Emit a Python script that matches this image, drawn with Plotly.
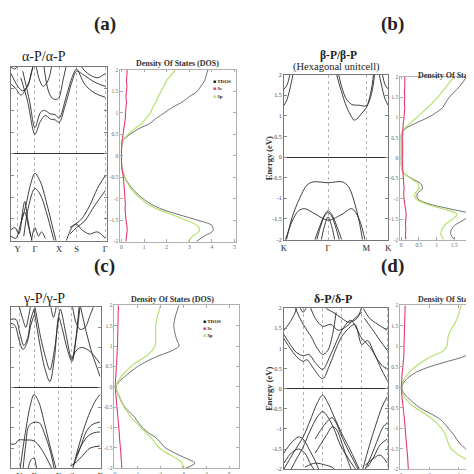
import plotly.graph_objects as go

W = H = 474
SERIF = "Liberation Serif"

# ---------------- DOS data (energy in eV, DOS in states/eV) ----------------
E_GRID = [2.0, 1.875, 1.75, 1.625, 1.5, 1.375, 1.25, 1.125, 1.0, 0.875, 0.75, 0.625,
          0.5, 0.375, 0.25, 0.125, 0.0, -0.125, -0.25, -0.375, -0.5, -0.625, -0.75,
          -0.875, -1.0, -1.125, -1.25, -1.375, -1.5, -1.625, -1.75, -1.875, -2.0]

TDOS_A = [3.82, 3.75, 3.68, 3.52, 3.35, 3.0, 2.68, 2.25, 1.9, 1.55, 1.25, 0.75,
          0.38, 0.1, 0.01, 0.0, 0.0, 0.0, 0.01, 0.06, 0.15, 0.28, 0.45,
          0.68, 0.95, 1.3, 1.8, 2.55, 3.35, 4.0, 4.05, 3.65, 3.3]
P3_A = [2.38, 2.2, 2.0, 1.88, 1.75, 1.62, 1.52, 1.38, 1.28, 1.1, 0.88, 0.57,
        0.3, 0.08, 0.01, 0.0, 0.0, 0.0, 0.01, 0.05, 0.13, 0.25, 0.4,
        0.6, 0.85, 1.15, 1.6, 2.25, 2.85, 3.35, 3.45, 3.15, 2.95]
S3_A = [0.25, 0.24, 0.22, 0.24, 0.22, 0.2, 0.22, 0.2, 0.18, 0.17, 0.14, 0.1,
        0.07, 0.03, 0.01, 0.0, 0.0, 0.0, 0.01, 0.04, 0.08, 0.1, 0.12,
        0.14, 0.15, 0.17, 0.16, 0.18, 0.2, 0.24, 0.25, 0.22, 0.2]

TDOS_B = [1.85, 1.75, 1.64, 1.5, 1.36, 1.26, 1.18, 1.0, 0.76, 0.45, 0.16, 0.01,
          0.0, 0.0, 0.0, 0.0, 0.0, 0.0, 0.01, 0.08, 0.3, 0.55, 0.6,
          0.45, 0.47, 0.78, 1.4, 1.93, 1.8, 1.55, 1.42, 1.4, 1.5]
P3_B = [1.5, 1.38, 1.27, 1.15, 1.04, 0.9, 0.76, 0.6, 0.44, 0.28, 0.11, 0.01,
        0.0, 0.0, 0.0, 0.0, 0.0, 0.0, 0.01, 0.07, 0.27, 0.47, 0.5,
        0.38, 0.42, 0.7, 1.2, 1.58, 1.45, 1.25, 1.15, 1.12, 1.2]
S3_B = [0.1, 0.1, 0.1, 0.09, 0.1, 0.09, 0.1, 0.09, 0.08, 0.06, 0.05, 0.04,
        0.04, 0.04, 0.04, 0.04, 0.04, 0.04, 0.04, 0.05, 0.06, 0.07, 0.08,
        0.07, 0.08, 0.1, 0.12, 0.14, 0.13, 0.12, 0.13, 0.12, 0.13]

TDOS_C = [2.8, 2.72, 2.65, 2.6, 2.57, 2.6, 2.65, 2.72, 2.8, 2.45, 1.86, 1.4,
          1.0, 0.7, 0.43, 0.18, 0.04, 0.1, 0.2, 0.3, 0.43, 0.65, 0.86,
          1.02, 1.2, 1.45, 1.78, 2.0, 2.2, 2.6, 3.07, 3.5, 3.1]
P3_C = [2.0, 1.93, 1.86, 1.82, 1.78, 1.78, 1.78, 1.78, 1.75, 1.6, 1.36, 1.0,
        0.7, 0.48, 0.28, 0.12, 0.04, 0.1, 0.18, 0.28, 0.4, 0.55, 0.7,
        0.92, 1.14, 1.35, 1.57, 1.75, 1.93, 2.25, 2.65, 2.95, 2.93]
S3_C = [0.15, 0.15, 0.14, 0.14, 0.13, 0.13, 0.12, 0.12, 0.11, 0.1, 0.09, 0.08,
        0.07, 0.05, 0.04, 0.02, 0.01, 0.03, 0.05, 0.07, 0.09, 0.11, 0.13,
        0.15, 0.17, 0.19, 0.2, 0.22, 0.24, 0.26, 0.27, 0.29, 0.3]

TDOS_D = [6.5, 6.3, 6.1, 5.9, 5.7, 5.5, 5.2, 4.85, 4.8, 5.0, 4.4, 3.2,
          2.0, 1.1, 0.55, 0.2, 0.05, 0.15, 0.45, 0.85, 1.3, 1.95, 2.6,
          3.0, 3.3, 3.6, 3.85, 4.1, 4.5, 4.8, 5.1, 5.5, 5.8]
P3_D = [4.2, 4.1, 4.0, 3.85, 3.65, 3.45, 3.3, 3.25, 3.2, 2.9, 2.1, 1.5,
        1.0, 0.6, 0.3, 0.1, 0.02, 0.08, 0.25, 0.55, 1.0, 1.55, 2.1,
        2.5, 2.8, 3.05, 3.2, 3.3, 3.5, 3.9, 4.5, 5.0, 5.4]
S3_D = [0.28, 0.27, 0.26, 0.25, 0.24, 0.23, 0.22, 0.21, 0.2, 0.2, 0.18, 0.15,
        0.12, 0.08, 0.05, 0.03, 0.01, 0.03, 0.06, 0.1, 0.14, 0.18, 0.22,
        0.25, 0.28, 0.31, 0.34, 0.37, 0.4, 0.43, 0.46, 0.48, 0.5]

# ---------------- band structure data: (k-path distance, energy eV) ----------------
KPTS_A = [0.067, 0.243, 0.49, 0.667, 0.96]
KLAB_A = ["Y", "Γ", "X", "S", "Γ"]
BANDS_A = [
    [(0.10, 1.75), (0.17, 1.2), (0.243, 0.45), (0.30, 0.75), (0.35, 0.88), (0.40, 0.8), (0.45, 0.78),
     (0.49, 0.72), (0.55, 1.1), (0.62, 1.65), (0.667, 1.9), (0.75, 1.8), (0.85, 1.65), (0.96, 1.55)],
    [(0.12, 1.9), (0.19, 1.2), (0.243, 0.6), (0.30, 0.95), (0.34, 1.0), (0.40, 0.92), (0.45, 0.9),
     (0.49, 0.82), (0.56, 1.3), (0.62, 1.75), (0.667, 1.95), (0.75, 1.6), (0.85, 1.4), (0.96, 1.3)],
    [(0.0, 1.85), (0.07, 1.55), (0.12, 1.45), (0.17, 1.55), (0.21, 1.9), (0.24, 2.1)],
    [(0.0, 1.6), (0.05, 1.5), (0.10, 1.35), (0.14, 1.45), (0.19, 1.7), (0.23, 2.1)],
    [(0.33, 2.1), (0.38, 1.45), (0.42, 1.28), (0.46, 1.25), (0.49, 1.3), (0.53, 1.7), (0.57, 2.1)],
    [(0.70, 2.05), (0.78, 1.85), (0.88, 1.75), (0.96, 1.85)],
    [(0.0, 2.0), (0.04, 1.95), (0.08, 2.1)],
    [(0.25, 2.1), (0.29, 1.7), (0.33, 1.55), (0.38, 1.7), (0.42, 2.1)],
    [(0.10, -1.6), (0.15, -1.2), (0.20, -0.7), (0.243, -0.45), (0.30, -0.65), (0.37, -1.2),
     (0.43, -1.75), (0.47, -2.1)],
    [(0.13, -1.9), (0.18, -1.2), (0.243, -0.8), (0.30, -0.95), (0.36, -1.35), (0.42, -1.85), (0.45, -2.1)],
    [(0.60, -1.7), (0.667, -1.6), (0.72, -1.5), (0.80, -1.2), (0.88, -0.8), (0.96, -0.5)],
    [(0.60, -1.85), (0.667, -1.7), (0.75, -1.55), (0.85, -1.2), (0.96, -0.85)],
    [(0.55, -2.1), (0.62, -1.7), (0.667, -1.62), (0.72, -1.75), (0.80, -1.85), (0.88, -1.8), (0.96, -1.95)],
    [(0.0, -1.75), (0.04, -1.7), (0.08, -1.85), (0.12, -1.3), (0.14, -1.1), (0.17, -1.5), (0.20, -1.9)],
    [(0.0, -1.9), (0.05, -1.95), (0.10, -1.6), (0.14, -1.35), (0.18, -1.7), (0.22, -2.05)],
    [(0.20, -2.1), (0.243, -1.7), (0.28, -1.9), (0.31, -1.8), (0.35, -1.95)],
]

KPTS_B = [0.0, 0.4226, 0.789, 1.0]
KLAB_B = ["K", "Γ", "M", "K"]
BANDS_B = [
    [(0.0, 1.25), (0.03, 1.4), (0.07, 1.8), (0.09, 2.05)],
    [(0.0, 1.65), (0.03, 1.75), (0.06, 2.05)],
    [(0.50, 2.05), (0.55, 1.6), (0.60, 1.22), (0.65, 0.97), (0.67, 0.9), (0.70, 0.93), (0.74, 1.05),
     (0.789, 1.2), (0.84, 1.55), (0.87, 2.05)],
    [(0.52, 2.05), (0.56, 1.65), (0.60, 1.4), (0.65, 1.28), (0.72, 1.26), (0.789, 1.25), (0.83, 1.55),
     (0.86, 2.05)],
    [(1.0, 1.25), (0.97, 1.4), (0.93, 1.8), (0.91, 2.05)],
    [(1.0, 1.65), (0.97, 1.75), (0.94, 2.05)],
    [(0.02, -2.05), (0.08, -1.45), (0.15, -1.0), (0.22, -0.68), (0.28, -0.6), (0.4226, -0.62),
     (0.56, -0.6), (0.62, -0.72), (0.67, -1.05), (0.72, -1.55), (0.755, -2.05)],
    [(0.01, -2.05), (0.08, -1.55), (0.14, -1.3), (0.2, -1.25), (0.3, -1.38), (0.4226, -1.53),
     (0.56, -1.38), (0.65, -1.25), (0.72, -1.5), (0.78, -2.05)],
    [(0.29, -2.05), (0.34, -1.7), (0.39, -1.4), (0.4226, -1.3), (0.46, -1.4), (0.51, -1.7), (0.56, -2.05)],
    [(0.31, -2.05), (0.355, -1.65), (0.39, -1.42), (0.4226, -1.35), (0.455, -1.42), (0.49, -1.65),
     (0.535, -2.05)],
    [(0.355, -2.05), (0.385, -1.7), (0.4226, -1.45), (0.46, -1.7), (0.49, -2.05)],
]

KPTS_C = [0.083, 0.233, 0.483, 0.617, 0.90]
KLAB_C = ["Y", "Γ", "X", "S", "Γ"]
BANDS_C = [
    [(0.233, 1.95), (0.29, 1.1), (0.34, 0.5), (0.393, 0.15), (0.44, 0.75), (0.483, 1.75), (0.52, 1.45),
     (0.57, 0.95), (0.617, 0.65), (0.66, 1.25), (0.70, 2.05)],
    [(0.24, 2.05), (0.30, 1.25), (0.35, 0.75), (0.393, 0.44), (0.44, 0.95), (0.47, 1.5), (0.50, 1.95),
     (0.55, 1.4), (0.60, 0.8), (0.617, 0.7), (0.65, 1.1), (0.69, 2.05)],
    [(0.70, 2.05), (0.76, 1.4), (0.82, 0.85), (0.87, 0.5), (0.90, 0.28)],
    [(0.62, 0.75), (0.67, 0.95), (0.72, 1.0), (0.80, 0.9), (0.90, 0.6)],
    [(0.0, 1.7), (0.05, 1.7), (0.09, 1.35), (0.13, 1.05), (0.17, 1.25), (0.20, 1.7), (0.233, 1.95)],
    [(0.0, 1.6), (0.04, 1.55), (0.08, 1.2), (0.12, 0.95), (0.16, 1.1), (0.20, 1.55), (0.233, 1.8)],
    [(0.08, 2.05), (0.12, 1.7), (0.15, 1.5), (0.18, 1.8), (0.20, 2.05)],
    [(0.40, 2.05), (0.43, 1.75), (0.46, 2.05)],
    [(0.62, 2.05), (0.66, 1.6), (0.70, 1.45), (0.75, 1.5), (0.80, 1.8), (0.84, 2.05)],
    [(0.09, -2.05), (0.14, -1.2), (0.19, -0.5), (0.233, -0.17), (0.28, -0.35), (0.34, -0.9),
     (0.40, -1.5), (0.46, -2.05)],
    [(0.12, -2.05), (0.15, -1.4), (0.18, -0.95), (0.233, -0.86), (0.29, -0.88), (0.34, -1.15),
     (0.40, -1.6), (0.44, -2.05)],
    [(0.0, -1.4), (0.04, -1.4), (0.08, -1.3), (0.14, -1.3), (0.233, -1.32), (0.30, -1.5), (0.36, -1.75),
     (0.42, -2.05)],
    [(0.17, -2.05), (0.20, -1.8), (0.233, -1.75), (0.26, -2.05)],
    [(0.62, -2.05), (0.68, -1.5), (0.74, -1.0), (0.80, -0.6), (0.86, -0.3), (0.90, -0.17)],
    [(0.63, -1.95), (0.70, -1.5), (0.76, -1.1), (0.82, -0.92), (0.90, -0.85)],
    [(0.66, -1.7), (0.72, -1.4), (0.78, -1.2), (0.84, -1.12), (0.90, -1.1)],
    [(0.60, -1.95), (0.66, -1.85), (0.72, -1.7), (0.80, -1.5), (0.90, -1.45)],
]

KPTS_D = [0.0, 0.184, 0.371, 0.555, 0.746, 0.99]
KLAB_D = ["S", "Y", "Γ", "X", "S", "Γ"]
BANDS_D = [
    [(0.0, 1.25), (0.06, 1.0), (0.12, 0.8), (0.184, 0.68), (0.22, 0.72), (0.29, 0.48), (0.371, 0.25),
     (0.44, 0.6), (0.50, 1.0), (0.555, 1.3), (0.62, 1.5), (0.68, 1.6), (0.746, 1.1), (0.80, 1.2),
     (0.87, 0.85), (0.93, 0.5), (0.99, 0.2)],
    [(0.0, 1.35), (0.06, 1.1), (0.12, 0.9), (0.184, 0.82), (0.24, 0.85), (0.30, 0.65), (0.371, 0.48),
     (0.44, 0.8), (0.50, 1.15), (0.555, 1.45), (0.64, 1.7), (0.746, 1.25), (0.82, 1.05), (0.89, 0.75),
     (0.95, 0.55), (0.99, 0.5)],
    [(0.0, 1.45), (0.05, 1.62), (0.10, 1.85), (0.13, 2.05)],
    [(0.10, 2.05), (0.184, 1.6), (0.26, 1.3), (0.32, 1.0), (0.371, 0.85), (0.42, 0.95), (0.47, 1.4),
     (0.50, 1.9)],
    [(0.25, 2.05), (0.30, 1.75), (0.371, 1.55), (0.45, 1.6), (0.52, 1.45), (0.60, 1.55), (0.68, 1.75),
     (0.746, 1.9)],
    [(0.40, 2.0), (0.47, 1.9), (0.555, 1.75), (0.62, 1.65), (0.70, 1.75), (0.746, 2.05)],
    [(0.76, 2.0), (0.82, 1.75), (0.90, 1.6), (0.99, 1.45)],
    [(0.77, 1.75), (0.84, 1.5), (0.92, 1.2), (0.99, 0.95)],
    [(0.15, 2.05), (0.184, 1.9), (0.22, 2.05)],
    [(0.0, -2.0), (0.09, -1.6), (0.184, -1.2), (0.25, -0.8), (0.32, -0.35), (0.371, -0.16),
     (0.42, -0.35), (0.49, -0.75), (0.555, -1.12), (0.64, -1.55), (0.73, -2.05)],
    [(0.06, -2.05), (0.12, -1.75), (0.184, -1.45), (0.25, -1.05), (0.32, -0.7), (0.371, -0.57),
     (0.42, -0.7), (0.48, -1.0), (0.54, -1.4), (0.62, -1.75), (0.70, -2.05)],
    [(0.30, -1.25), (0.36, -1.0), (0.42, -0.8), (0.46, -0.72), (0.50, -0.85), (0.555, -1.2),
     (0.62, -1.55), (0.68, -1.85), (0.72, -2.05)],
    [(0.30, -1.6), (0.36, -1.35), (0.42, -1.1), (0.46, -0.95), (0.50, -1.0), (0.555, -1.35),
     (0.60, -1.7), (0.65, -2.05)],
    [(0.0, -1.6), (0.07, -1.35), (0.14, -1.2), (0.184, -1.25), (0.24, -1.5), (0.30, -1.8), (0.34, -2.05)],
    [(0.0, -1.85), (0.07, -1.6), (0.14, -1.5), (0.20, -1.6), (0.26, -1.9), (0.30, -2.05)],
    [(0.20, -1.95), (0.30, -1.85), (0.40, -1.9), (0.46, -1.95), (0.50, -2.05)],
    [(0.75, -2.05), (0.82, -1.4), (0.88, -0.9), (0.94, -0.45), (0.99, -0.2)],
    [(0.77, -2.05), (0.84, -1.65), (0.90, -1.25), (0.95, -0.95), (0.99, -0.85)],
    [(0.80, -1.95), (0.86, -1.7), (0.92, -1.4), (0.99, -1.25)],
    [(0.78, -1.9), (0.85, -1.75), (0.92, -1.65), (0.99, -1.85)],
]

E_TICKS = [2, 1.5, 1, 0.5, 0, -0.5, -1, -1.5, -2]
E_TICKTXT = ["2", "1.5", "1", "0.5", "0", "-0.5", "-1", "-1.5", "-2"]
DOS_TICKS_A = [0, 1, 2, 3, 4, 5]
DOS_TICKS_B = [0, 0.5, 1, 1.5, 2]
DOS_TICKS_D = [0, 2, 4]

C_TDOS = "#4a4a4a"
C_3S = "#e23a6e"
C_3P = "#b6e26e"


def px_x(a, b):
    return [a / W, min(b / W, 1.0)]


def px_y(top, bottom):
    return [1 - bottom / H, 1 - top / H]


fig = go.Figure()

panels = [
    dict(b=1, d=2, bands=BANDS_A, kp=KPTS_A, kl=KLAB_A, kr=[0, 0.973], bx=(0, 97), by=(57, 234), lab=False,
         dx=(111, 228), dy=(60, 235), dr=[-0.05, 5.05], dt=DOS_TICKS_A, data=(TDOS_A, P3_A, S3_A)),
    dict(b=3, d=4, bands=BANDS_B, kp=KPTS_B, kl=KLAB_B, kr=[0, 1.0], bx=(277, 383), by=(65, 233), lab=True,
         dx=(395, 474), dy=(67, 233), dr=[-0.03, 2.17], dt=DOS_TICKS_B, data=(TDOS_B, P3_B, S3_B)),
    dict(b=5, d=6, bands=BANDS_C, kp=KPTS_C, kl=KLAB_C, kr=[0, 0.907], bx=(0, 91), by=(302, 466), lab=False,
         dx=(105, 231), dy=(300, 466), dr=[-0.02, 5.4], dt=DOS_TICKS_A, data=(TDOS_C, P3_C, S3_C)),
    dict(b=7, d=8, bands=BANDS_D, kp=KPTS_D, kl=KLAB_D, kr=[0, 1.0], bx=(277, 383), by=(303, 467), lab=True,
         dx=(395, 474), dy=(300, 467), dr=[-0.07, 5.38], dt=DOS_TICKS_D, data=(TDOS_D, P3_D, S3_D)),
]


def ref(i, kind):
    return kind + ("" if i == 1 else str(i))


layout_axes = {}
for p in panels:
    b, d = p["b"], p["d"]
    for band in p["bands"]:
        fig.add_trace(go.Scatter(x=[q[0] for q in band], y=[q[1] for q in band], mode="lines",
                                 line=dict(color="#2a2a2a", width=0.9, shape="spline", smoothing=0.9),
                                 xaxis=ref(b, "x"), yaxis=ref(b, "y"), showlegend=False, hoverinfo="skip"))
    tdos, p3, s3 = p["data"]
    for vals, col, wd in ((tdos, C_TDOS, 0.8), (p3, C_3P, 1.2), (s3, C_3S, 1.1)):
        fig.add_trace(go.Scatter(x=vals, y=E_GRID, mode="lines",
                                 line=dict(color=col, width=wd, shape="spline", smoothing=0.8),
                                 xaxis=ref(d, "x"), yaxis=ref(d, "y"), showlegend=False, hoverinfo="skip"))

    layout_axes[ref(b, "xaxis")] = dict(
        domain=px_x(*p["bx"]), range=p["kr"], anchor=ref(b, "y"), tickmode="array", tickvals=p["kp"],
        ticktext=p["kl"], ticks="", showgrid=True, gridcolor="#b5b5b5", griddash="dot", gridwidth=0.7,
        showline=True, linecolor="#777", linewidth=0.9, mirror=True, zeroline=False,
        tickfont=dict(family=SERIF, size=8.5, color="#222"), fixedrange=True)
    layout_axes[ref(b, "yaxis")] = dict(
        domain=px_y(*p["by"]), range=[-2, 2], anchor=ref(b, "x"), tickmode="array", tickvals=E_TICKS,
        ticktext=E_TICKTXT, ticks="inside", ticklen=3, tickcolor="#888", showticklabels=p["lab"],
        showgrid=False, zeroline=True, zerolinecolor="#333", zerolinewidth=1.2,
        showline=True, linecolor="#777", linewidth=0.9, mirror="ticks",
        tickfont=dict(family=SERIF, size=6, color="#444"), fixedrange=True)
    layout_axes[ref(d, "xaxis")] = dict(
        domain=px_x(*p["dx"]), range=p["dr"], anchor=ref(d, "y"), tickmode="array", tickvals=p["dt"],
        ticktext=[str(t) for t in p["dt"]], ticks="inside", ticklen=2.5, tickcolor="#aaa",
        showgrid=False, zeroline=False, showline=True, linecolor="#b0b0b0", linewidth=0.8, mirror="ticks",
        tickfont=dict(family=SERIF, size=5.5, color="#666"), fixedrange=True)
    layout_axes[ref(d, "yaxis")] = dict(
        domain=px_y(*p["dy"]), range=[-2, 2], anchor=ref(d, "x"), tickmode="array", tickvals=E_TICKS,
        ticktext=E_TICKTXT, ticks="inside", ticklen=2.5, tickcolor="#aaa",
        showgrid=False, zeroline=False, showline=True, linecolor="#b0b0b0", linewidth=0.8, mirror="ticks",
        tickfont=dict(family=SERIF, size=5.5, color="#666"), fixedrange=True)

annotations = []


def ann(text, x, y, size, bold=False, color="#222", xanchor="center", angle=0):
    t = "<b>%s</b>" % text if bold else text
    annotations.append(dict(text=t, x=x / W, y=1 - y / H, xref="paper", yref="paper", showarrow=False,
                            xanchor=xanchor, yanchor="middle", textangle=angle,
                            font=dict(family=SERIF, size=size, color=color)))


ann("(a)", 95, 13, 19, bold=True)
ann("(b)", 387, 13, 19, bold=True)
ann("(c)", 95, 260, 19, bold=True)
ann("(d)", 387, 260, 19, bold=True)
ann("α-P/α-P", 33, 46, 14)
ann("β-P/β-P", 332, 45, 11.5, bold=True)
ann("(Hexagonal unitcell)", 330, 57, 10.5)
ann("γ-P/γ-P", 33, 293, 14)
ann("δ-P/δ-P", 327, 294, 12, bold=True)
ann("Density Of States (DOS)", 169, 54, 8, bold=True, color="#333")
ann("Density Of States (DOS)", 164, 294, 8, bold=True, color="#333")
ann("Density Of States", 411, 66, 8, bold=True, color="#333", xanchor="left")
ann("Density Of States", 411, 294, 8, bold=True, color="#333", xanchor="left")
ann("Energy (eV)", 262, 150, 8.5, bold=True, color="#333", angle=-90)
ann("Energy (eV)", 262, 385, 8.5, bold=True, color="#333", angle=-90)

for lx, ly in ((203, 72), (193, 316)):
    for i, (lab, col) in enumerate((("TDOS", "#111"), ("3s", C_3S), ("3p", C_3P))):
        annotations.append(dict(
            text="<span style='color:%s'>■</span> <b>%s</b>" % (col, lab),
            x=lx / W, y=1 - (ly + i * 7.5) / H, xref="paper", yref="paper", showarrow=False,
            xanchor="left", yanchor="middle", font=dict(family=SERIF, size=5, color="#222")))

fig.update_layout(width=W, height=H, margin=dict(l=0, r=0, t=0, b=0), paper_bgcolor="white",
                  plot_bgcolor="white", showlegend=False, annotations=annotations, **layout_axes)

fig.write_html("out.html")
